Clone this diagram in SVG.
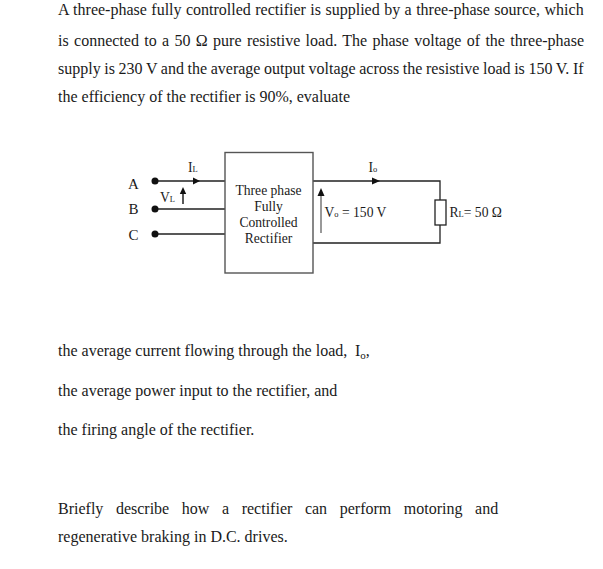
<svg xmlns="http://www.w3.org/2000/svg" width="603" height="569" viewBox="0 0 603 569">
<style>
text{font-family:"Liberation Serif","Times New Roman",serif;fill:#1a1a1a}
.p{font-size:16px}
.d{font-size:13.6px}
.l{font-size:15px}
.s{font-size:8.5px}
.ps{font-size:11px}
.w{fill:none;stroke:#222;stroke-width:1.3}
.g{fill:none;stroke:#555;stroke-width:1.4}
.dot{fill:#111}
.h{fill:#111}
</style>
<rect width="603" height="569" fill="#fff"/>
<g id="question-text">
<text class="p" x="58" y="15" word-spacing="0.45">A three-phase fully controlled rectifier is supplied by a three-phase source, which</text>
<text class="p" x="58" y="46" word-spacing="1.36">is connected to a 50 Ω pure resistive load. The phase voltage of the three-phase</text>
<text class="p" x="58" y="74" word-spacing="-0.38">supply is 230 V and the average output voltage across the resistive load is 150 V. If</text>
<text class="p" x="58" y="102">the efficiency of the rectifier is 90%, evaluate</text>
<text class="p" x="58" y="356">the average current flowing through the load,</text>
<text class="p" x="355" y="356">I<tspan class="ps" dy="3">o</tspan><tspan dy="-3">,</tspan></text>
<text class="p" x="58" y="396">the average power input to the rectifier, and</text>
<text class="p" x="58" y="435">the firing angle of the rectifier.</text>
<text class="p" x="58" y="514" word-spacing="8.6">Briefly describe how a rectifier can perform motoring and</text>
<text class="p" x="58" y="542">regenerative braking in D.C. drives.</text>
</g>
<g id="connectors">
<path class="w" d="M155 181H225M155 209H225M155 234H225"/>
<path class="w" d="M313 181H440V200M440 225V243H313"/>
<path class="g" d="M321 233V196" style="stroke-width:1.2"/>
<path class="w" d="M183 204V193" style="stroke-width:1.5"/>
<polygon class="h" points="193,177.5 200,181 193,184.500"/>
<polygon class="h" points="372,177.500 380,181 372,184.500"/>
<polygon class="h" points="183,187 179.800,194 186.200,194"/>
<polygon class="h" points="321,188 317.500,196 324.500,196"/>
</g>
<g id="terminal-a"><circle class="dot" cx="155" cy="181" r="3.500"/><text class="l" x="128" y="189">A</text></g>
<g id="terminal-b"><circle class="dot" cx="155" cy="209" r="3.500"/><text class="l" x="128.500" y="214">B</text></g>
<g id="terminal-c"><circle class="dot" cx="155" cy="234" r="3.500"/><text class="l" x="128.500" y="240">C</text></g>
<g id="rectifier">
<rect class="g" x="225" y="152.500" width="88" height="120.500"/>
<text class="d" text-anchor="middle" x="268.500" y="195">Three phase</text>
<text class="d" text-anchor="middle" x="268.500" y="211">Fully</text>
<text class="d" text-anchor="middle" x="268.500" y="227">Controlled</text>
<text class="d" text-anchor="middle" x="268.500" y="243">Rectifier</text>
</g>
<g id="load">
<rect x="435" y="200" width="11" height="25" fill="#fff" stroke="#222" stroke-width="1.300"/>
<text class="d" x="449.500" y="217">R<tspan class="s">L</tspan>= 50 Ω</text>
</g>
<g id="labels">
<text class="d" x="188" y="172">I<tspan class="s">L</tspan></text>
<text class="d" x="160" y="202">V<tspan class="s">L</tspan></text>
<text class="d" x="368.500" y="172">I<tspan class="s">o</tspan></text>
<text class="d" x="324.500" y="217">V<tspan class="s">o</tspan> = 150 V</text>
</g>
</svg>
